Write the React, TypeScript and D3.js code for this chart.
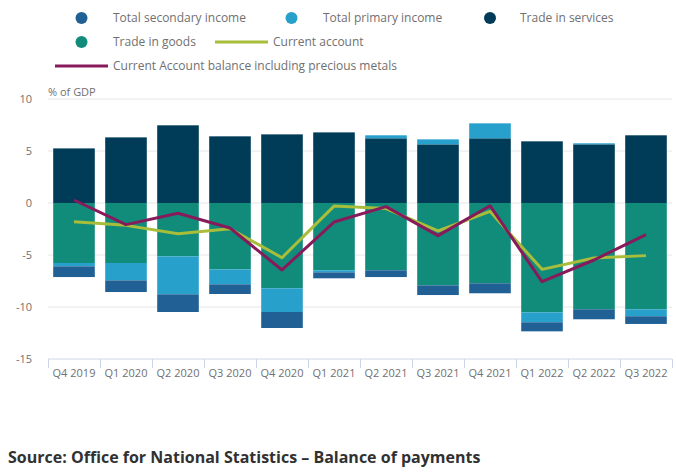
import React, { useEffect } from "react";
import * as d3 from "d3";

const categories = ["Q4 2019","Q1 2020","Q2 2020","Q3 2020","Q4 2020","Q1 2021","Q2 2021","Q3 2021","Q4 2021","Q1 2022","Q2 2022","Q3 2022"];
const secondaryIncome = [-1.03,-1.12,-1.7,-0.93,-1.54,-0.57,-0.65,-0.93,-0.96,-0.87,-0.96,-0.74];
const primaryIncome = [-0.32,-1.67,-3.65,-1.44,-2.28,-0.2,0.29,0.48,1.44,-0.96,0.1,-0.67];
const tradeServices = [5.25,6.31,7.47,6.41,6.6,6.79,6.22,5.64,6.22,5.93,5.64,6.51];
const tradeGoods = [-5.77,-5.77,-5.13,-6.38,-8.2,-6.47,-6.47,-7.92,-7.72,-10.51,-10.22,-10.22];
const currentAccount = [-1.8,-2.15,-2.95,-2.47,-5.26,-0.3,-0.54,-2.69,-0.8,-6.38,-5.29,-5.06];
const caPreciousMetals = [0.29,-2.08,-0.99,-2.4,-6.44,-1.83,-0.35,-3.14,-0.26,-7.56,-5.48,-3.04];
const yTicks = [10,5,0,-5,-10,-15];

const COLORS = {
  secondary: "#206095",
  primary: "#27a0cc",
  services: "#003c57",
  goods: "#118c7b",
  ca: "#a8bd3a",
  pm: "#871a5b",
};

const W = 676, H = 475;
const M = { left: 48, right: 672, top: 99, bottom: 359 };

export default function App() {
  useEffect(() => { document.body.style.margin = "0"; }, []);
  const font = "'Open Sans', sans-serif";
  const x = d3.scaleBand<string>().domain(categories).range([M.left, M.right]).paddingInner(0.2).paddingOuter(0.1);
  const xb = d3.scaleBand<string>().domain(categories).range([M.left, M.right]);
  const y = d3.scaleLinear().domain([-15, 10]).range([M.bottom, M.top]);

  const rows = categories.map((c, i) => ({
    cat: c,
    goods: tradeGoods[i],
    services: tradeServices[i],
    primary: primaryIncome[i],
    secondary: secondaryIncome[i],
  }));
  const keys = ["goods", "services", "primary", "secondary"] as const;
  const stack = d3.stack<any>().keys(keys as any).offset(d3.stackOffsetDiverging);
  const series = stack(rows);

  const cx = (i: number) => (xb(categories[i]) as number) + xb.bandwidth() / 2;
  const line = d3.line<number>().x((_, i) => cx(i)).y((d) => y(d));

  const legendText = { fill: "#707070", fontSize: 12, fontFamily: font } as const;

  return (
    <svg width={W} height={H} style={{ display: "block" }}>
      <rect width={W} height={H} fill="#fff" />
      {/* legend */}
      <g>
        <circle cx={81.5} cy={18} r={6} fill={COLORS.secondary} />
        <text x={113} y={22} {...legendText}>Total secondary income</text>
        <circle cx={291.5} cy={18} r={6} fill={COLORS.primary} />
        <text x={323} y={22} {...legendText}>Total primary income</text>
        <circle cx={490} cy={18} r={6} fill={COLORS.services} />
        <text x={520} y={22} {...legendText}>Trade in services</text>
        <circle cx={81.5} cy={42} r={6} fill={COLORS.goods} />
        <text x={113} y={46} {...legendText}>Trade in goods</text>
        <line x1={215} x2={268} y1={42} y2={42} stroke={COLORS.ca} strokeWidth={3} />
        <text x={273} y={46} {...legendText}>Current account</text>
        <line x1={55} x2={108} y1={66} y2={66} stroke={COLORS.pm} strokeWidth={3} />
        <text x={113} y={70} {...legendText}>Current Account balance including precious metals</text>
      </g>
      <text x={48} y={96} fill="#707070" fontSize={11} fontFamily={font}>% of GDP</text>
      {/* grid */}
      {yTicks.map((t) => (
        <g key={t}>
          {t !== -15 && <line x1={M.left} x2={M.right} y1={y(t)} y2={y(t)} stroke="#e6e6e6" strokeWidth={1} />}
          <text x={32} y={y(t) + 4} textAnchor="end" fill="#707070" fontSize={11} fontFamily={font}>{t}</text>
        </g>
      ))}
      {/* bars */}
      {series.map((s) => (
        <g key={s.key} fill={(COLORS as any)[s.key]}>
          {s.map((d, i) => {
            const y0 = y(d[0]), y1 = y(d[1]);
            return <rect key={i} x={x(categories[i])} width={x.bandwidth()} y={Math.min(y0, y1)} height={Math.abs(y1 - y0)} />;
          })}
        </g>
      ))}
      {/* lines */}
      <path d={line(currentAccount) || ""} fill="none" stroke={COLORS.ca} strokeWidth={3} strokeLinejoin="round" />
      <path d={line(caPreciousMetals) || ""} fill="none" stroke={COLORS.pm} strokeWidth={3} strokeLinejoin="round" />
      {/* x axis */}
      <line x1={M.left} x2={M.right} y1={M.bottom} y2={M.bottom} stroke="#ccd6eb" strokeWidth={1} />
      {d3.range(categories.length + 1).map((i) => {
        const xx = Math.round(M.left + i * xb.bandwidth()) + 0.5;
        return <line key={i} x1={xx} x2={xx} y1={M.bottom} y2={M.bottom + 9} stroke="#ccd6eb" strokeWidth={1} />;
      })}
      {categories.map((c, i) => (
        <text key={c} x={cx(i)} y={377} textAnchor="middle" fill="#707070" fontSize={11} fontFamily={font}>{c}</text>
      ))}
      <text x={8} y={463} fill="#323132" fontSize={16} fontWeight={700} fontFamily={font}>Source: Office for National Statistics – Balance of payments</text>
    </svg>
  );
}
